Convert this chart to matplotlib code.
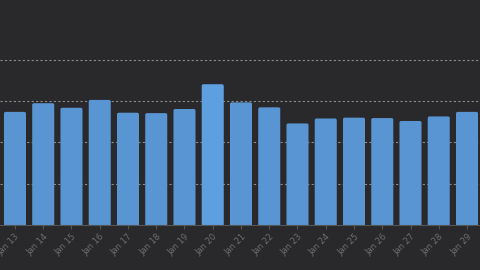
import matplotlib.pyplot as plt
from matplotlib.patches import FancyBboxPatch

days = ["Jan 13", "Jan 14", "Jan 15", "Jan 16", "Jan 17", "Jan 18", "Jan 19",
        "Jan 20", "Jan 21", "Jan 22", "Jan 23", "Jan 24", "Jan 25", "Jan 26",
        "Jan 27", "Jan 28", "Jan 29"]
values = [2.74, 2.95, 2.84, 3.03, 2.72, 2.71, 2.81, 3.41, 2.97, 2.85,
          2.46, 2.58, 2.60, 2.59, 2.52, 2.63, 2.74]

BG = "#29282a"

fig = plt.figure(figsize=(4.8, 2.7), dpi=100, facecolor=BG)
ax = fig.add_axes([0, 45 / 270, 1, 225 / 270])
ax.set_facecolor(BG)

colors = ["#5a95d3"] * len(values)
colors[7] = "#5e9fe0"
x = range(len(days))
bars = ax.bar(x, values, width=0.78, color=colors, zorder=2)

# rounded tops: swap each rectangle for a rounded box reaching below the baseline
for b in bars:
    bx, bw, bh = b.get_x(), b.get_width(), b.get_height()
    rb = FancyBboxPatch((bx, -0.3), bw, bh + 0.3,
                        boxstyle="round,pad=0,rounding_size=0.06",
                        mutation_aspect=0.68, facecolor=b.get_facecolor(),
                        edgecolor="none", zorder=2)
    b.remove()
    ax.add_patch(rb)

ax.set_xlim(-0.53, len(days) - 0.54)
ax.set_ylim(0, 5.45)
ax.set_yticks([1, 2, 3, 4])
ax.yaxis.grid(True, color="#8a8a8a", linestyle=(0, (2, 2)), linewidth=0.8, zorder=1)
ax.tick_params(axis="y", left=False, labelleft=False)

ax.set_xticks(list(x))
ax.set_xticklabels(days, rotation=45, ha="right", rotation_mode="anchor",
                   fontsize=6, color="#6e6e6e")
ax.tick_params(axis="x", length=3, color="#555555", pad=2)

for s in ["top", "left", "right"]:
    ax.spines[s].set_visible(False)
ax.spines["bottom"].set_color("#555555")
ax.spines["bottom"].set_linewidth(0.8)
ax.spines["bottom"].set_zorder(3)

fig.savefig("out.png", dpi=100, facecolor=BG)
